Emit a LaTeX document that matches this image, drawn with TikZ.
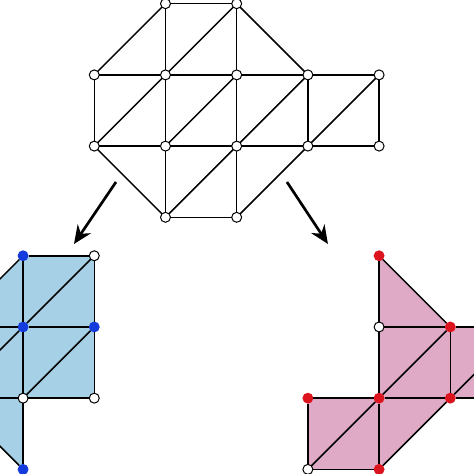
\documentclass[tikz,border=0pt]{standalone}
\usetikzlibrary{arrows.meta}
\definecolor{lightblue}{RGB}{166,208,230}
\definecolor{lightpink}{RGB}{222,170,198}
\definecolor{dotblue}{RGB}{20,60,220}
\definecolor{dotred}{RGB}{220,20,30}
\begin{document}
\begin{tikzpicture}[x=1.5cm, y=1.5cm, line width=0.9pt, line join=miter,
	every node/.style={circle, inner sep=0pt, minimum size=0.21cm, outer sep=0pt},
	vtx/.style={draw, fill=white, line width=0.6pt},
	bluevtx/.style={fill=dotblue, minimum size=0.23cm},
	redvtx/.style={fill=dotred, minimum size=0.23cm},
	bigarrow/.style={-{Stealth[length=11pt, width=9.5pt]}, line width=1.6pt}]
	
	\useasboundingbox (-1.324, -3.605) rectangle (5.333, 3.052);
	\clip (-1.324, -3.605) rectangle (5.333, 3.052);
	
	% Vùng tô màu
	\fill[lightblue, shift={(-2, -3.54)}] (1, 3) -- (2, 3) -- (2, 1) -- (1, 1) -- (1, 0) -- (0, 1) -- (0, 2) -- cycle;
	\fill[lightpink, shift={(2, -3.54)}] (2, 3) -- (3, 2) -- (4, 2) -- (4, 1) -- (3, 1) -- (2, 0) -- (1, 0) -- (1, 1) -- (2, 1) -- (2, 2) -- cycle;
	
	% Đồ thị ban đầu
	\node[vtx] (t13) at (1, 3) {};
	\node[vtx] (t23) at (2, 3) {};
	\node[vtx] (t02) at (0, 2) {};
	\node[vtx] (t12) at (1, 2) {};
	\node[vtx] (t22) at (2, 2) {};
	\node[vtx] (t32) at (3, 2) {};
	\node[vtx] (t42) at (4, 2) {};
	\node[vtx] (t01) at (0, 1) {};
	\node[vtx] (t11) at (1, 1) {};
	\node[vtx] (t21) at (2, 1) {};
	\node[vtx] (t31) at (3, 1) {};
	\node[vtx] (t41) at (4, 1) {};
	\node[vtx] (t10) at (1, 0) {};
	\node[vtx] (t20) at (2, 0) {};
	\draw (t13) -- (t23);
	\draw (t02) -- (t12) -- (t22) -- (t32) -- (t42);
	\draw (t01) -- (t11) -- (t21) -- (t31) -- (t41);
	\draw (t10) -- (t20);
	\draw (t13) -- (t12);
	\draw (t23) -- (t22);
	\draw (t02) -- (t01);
	\draw (t12) -- (t11);
	\draw (t22) -- (t21);
	\draw (t32) -- (t31);
	\draw (t42) -- (t41);
	\draw (t11) -- (t10);
	\draw (t21) -- (t20);
	\draw (t13) -- (t02);
	\draw (t23) -- (t12);
	\draw (t23) -- (t32);
	\draw (t01) -- (t12);
	\draw (t11) -- (t22);
	\draw (t21) -- (t32);
	\draw (t31) -- (t42);
	\draw (t01) -- (t10);
	\draw (t21) -- (t10);
	\draw (t31) -- (t20);
	
	% Mũi tên
	\coordinate (la) at (0.305, 0.496);
	\coordinate (lb) at (-0.285, -0.375);
	\coordinate (ra) at (2.706, 0.496);
	\coordinate (rb) at (3.282, -0.375);
	\draw[bigarrow] (la) -- (lb);
	\draw[bigarrow] (ra) -- (rb);
	
	% Đồ thị con bên trái
	\node[bluevtx] (l13) at (-1, -0.54) {};
	\node[vtx] (l23) at (0, -0.54) {};
	\node[vtx] (l02) at (-2, -1.54) {};
	\node[bluevtx] (l12) at (-1, -1.54) {};
	\node[bluevtx] (l22) at (0, -1.54) {};
	\node[vtx] (l01) at (-2, -2.54) {};
	\node[vtx] (l11) at (-1, -2.54) {};
	\node[vtx] (l21) at (0, -2.54) {};
	\node[bluevtx] (l10) at (-1, -3.54) {};
	\draw (l13) -- (l23);
	\draw (l02) -- (l12) -- (l22);
	\draw (l01) -- (l11) -- (l21);
	\draw (l13) -- (l12);
	\draw (l23) -- (l22);
	\draw (l02) -- (l01);
	\draw (l12) -- (l11);
	\draw (l22) -- (l21);
	\draw (l11) -- (l10);
	\draw (l13) -- (l02);
	\draw (l23) -- (l12);
	\draw (l01) -- (l12);
	\draw (l11) -- (l22);
	\draw (l01) -- (l10);
	
	% Đồ thị con bên phải
	\node[redvtx] (r23) at (4, -0.54) {};
	\node[vtx] (r22) at (4, -1.54) {};
	\node[redvtx] (r32) at (5, -1.54) {};
	\node[vtx] (r42) at (6, -1.54) {};
	\node[redvtx] (r11) at (3, -2.54) {};
	\node[redvtx] (r21) at (4, -2.54) {};
	\node[redvtx] (r31) at (5, -2.54) {};
	\node[vtx] (r41) at (6, -2.54) {};
	\node[vtx] (r10) at (3, -3.54) {};
	\node[redvtx] (r20) at (4, -3.54) {};
	\draw (r22) -- (r32) -- (r42);
	\draw (r11) -- (r21) -- (r31) -- (r41);
	\draw (r10) -- (r20);
	\draw (r23) -- (r22);
	\draw (r22) -- (r21);
	\draw (r32) -- (r31);
	\draw (r42) -- (r41);
	\draw (r11) -- (r10);
	\draw (r21) -- (r20);
	\draw (r23) -- (r32);
	\draw (r21) -- (r32);
	\draw (r31) -- (r42);
	\draw (r21) -- (r10);
	\draw (r31) -- (r20);
\end{tikzpicture}
\end{document}
